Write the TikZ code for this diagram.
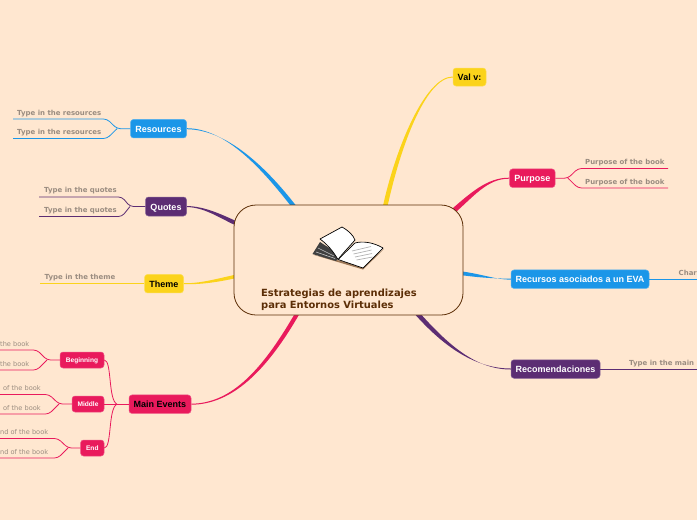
\documentclass[tikz,border=0pt]{standalone}
\usepackage{fontspec}
\setmainfont{Liberation Sans}
\newfontfamily\dvs{DejaVu Sans}
\usetikzlibrary{calc,backgrounds}
\definecolor{paper}{HTML}{FFE7D0}
\definecolor{cblue}{HTML}{1B96E8}
\definecolor{cpurple}{HTML}{5C2D73}
\definecolor{cyellow}{HTML}{FBD31B}
\definecolor{cpink}{HTML}{E91A5C}
\definecolor{cbrown}{HTML}{5C2E06}
\definecolor{cgray}{HTML}{9A8C80}
\newcommand{\taper}[6]{\fill[#1] ($#2+#6$) .. controls ($#3+#6$) and ($#4+(0,.5)$) .. ($#5+(0,.5)$) -- ($#5-(0,.5)$) .. controls ($#4-(0,.5)$) and ($#3-#6$) .. ($#2-#6$) -- cycle;}
\tikzset{
  topic/.style={rounded corners=3pt,draw=#1!75!white,line width=.5pt,fill=#1,text=white,font=\bfseries\fontsize{9}{10}\selectfont,inner sep=0pt,anchor=center,text height=7pt,text depth=0pt},
  subtopic/.style={topic=#1,font=\bfseries\fontsize{6.6}{8}\selectfont,text height=5.2pt},
  leaf/.style={text=cgray,font=\dvs\bfseries\fontsize{6.95}{8}\selectfont,inner sep=0pt,anchor=base west},
  softleaf/.style={text=cgray,font=\dvs\fontsize{6.6}{8}\selectfont,inner sep=0pt,anchor=base west},
  branch/.style={draw=#1,line width=.8pt,line join=round,rounded corners=3.5pt},
  stem/.style={draw=#1,line width=1pt},
}
\begin{document}
\begin{tikzpicture}[x=1pt,y=-1pt]
\useasboundingbox (0,0) rectangle (697,520);
% hub
\node[draw=cbrown,line width=.8pt,fill=paper,rounded corners=22pt,minimum width=229pt,minimum height=110pt,inner sep=0pt] (hub) at (348.5,260) {};
\node[text=cbrown,font=\dvs\bfseries\fontsize{9.9}{12}\selectfont,align=left,anchor=north west,inner sep=0pt] (hubtext) at (261,289) {Estrategias de aprendizajes\\para Entornos Virtuales};
% book
\fill[cbrown!60!paper] (312.5,254.5) -- (363,269.5) -- (384,249) -- (363,266) -- cycle;
\fill[black!75] (320,242) -- (312.5,254) -- (336,261) -- (340,255) -- cycle;
\draw[white!75!black,line width=.5pt] (318,248) -- (334,256);
\draw[white!85!black,line width=.5pt] (316,252) -- (335,258.5);
\fill[white,draw=black,line width=.7pt,line join=round] (338,259.5) -- (355,243) .. controls (362,241) and (373,242) .. (383,248) -- (363,268) -- cycle;
\foreach \a in {0,1,2,3}{\draw[black!30,line width=.7pt] (352+\a*1.5,251+\a*3) -- (371+\a*.5,246.5+\a*3.5);}
\fill[white,draw=black,line width=.7pt,line join=round] (320,239) -- (342,227) .. controls (349,231) and (353,235) .. (355,240) .. controls (349,247) and (343,253) .. (338,259.5) .. controls (333,251) and (327,244) .. (320,239) -- cycle;
% topics
\node[topic=cblue,minimum width=56pt,minimum height=18.5pt] (res) at (158.5,128.7) {Resources};
\node[topic=cpurple,minimum width=41pt,minimum height=19pt] (quo) at (166,206.5) {Quotes};
\node[topic=cyellow,text=black,minimum width=39pt,minimum height=18.5pt] (the) at (164,283.7) {Theme};
\node[topic=cpink,text=black,minimum width=62pt,minimum height=18.5pt] (mai) at (160,404.2) {Main Events};
\node[subtopic=cpink,minimum width=44pt,minimum height=16pt] (beg) at (82,360) {Beginning};
\node[subtopic=cpink,minimum width=32pt,minimum height=16pt] (mid) at (88,404) {Middle};
\node[subtopic=cpink,minimum width=23.5pt,minimum height=16pt] (end) at (92.3,448) {End};
\node[topic=cyellow,text=black,minimum width=33pt,minimum height=18pt] (val) at (469.5,77) {Val v:};
\node[topic=cpink,minimum width=45.5pt,minimum height=18.5pt] (pur) at (532.3,178.2) {Purpose};
\node[topic=cblue,minimum width=138pt,minimum height=18.5pt] (rec) at (580,279.2) {Recursos asociados a un EVA};
\node[topic=cpurple,minimum width=89pt,minimum height=18.5pt] (rcm) at (555.5,369) {Recomendaciones};
% junctions and free ends
\coordinate (jres) at (117,128.7);
\coordinate (jquo) at (130,206.5);
\coordinate (jmai) at (117,404.2);
\coordinate (jbeg) at (47,360);
\coordinate (jmid) at (59,404);
\coordinate (jend) at (68,448);
\coordinate (jpur) at (568,178.2);
\coordinate (fres1) at (13,119);
\coordinate (fres2) at (13,138.5);
\coordinate (fquo1) at (39,197);
\coordinate (fquo2) at (39,216.5);
\coordinate (fthe) at (40,283.7);
\coordinate (fbeg1) at (0,350);
\coordinate (fbeg2) at (0,370);
\coordinate (fmid1) at (0,394.5);
\coordinate (fmid2) at (0,414);
\coordinate (fend1) at (0,438.5);
\coordinate (fend2) at (0,458);
\coordinate (fpur1) at (668,168.5);
\coordinate (fpur2) at (668,188);
\coordinate (frec) at (697,279.2);
\coordinate (frcm) at (697,369);
\begin{scope}[on background layer]
\fill[paper] (0,0) rectangle (697,520);
% tapered connectors from the hub
\taper{cblue}{([shift={(62,4)}]hub.north west)}{(262,165)}{(225,129)}{(res.east)}{(1.7,-1.3)}
\taper{cyellow}{([shift={(36,5)}]hub.north)}{(397,150)}{(425,77)}{(val.west)}{(2.2,.5)}
\taper{cpink}{([shift={(-12,8)}]hub.north east)}{(472,195)}{(487,178)}{(pur.west)}{(1.7,1.8)}
\taper{cblue}{([shift={(-4,13)}]hub.east)}{(482,276)}{(495,279)}{(rec.west)}{(.3,-1.9)}
\taper{cpurple}{([shift={(-48,-4)}]hub.south east)}{(445,345)}{(475,369)}{(rcm.west)}{(1.7,-1.5)}
\taper{cpink}{([shift={(-50,-4)}]hub.south)}{(265,370)}{(232,404)}{(mai.east)}{(1.7,1.2)}
\taper{cyellow}{([shift={(4,16)}]hub.west)}{(215,281)}{(200,284)}{(the.east)}{(.4,1.7)}
\taper{cpurple}{([shift={(4,-36)}]hub.west)}{(220,216)}{(205,207)}{(quo.east)}{(-.8,1.9)}
\end{scope}
% left branches
\draw[branch=cblue] (res.west) -- (jres) -- (107,119) -- (fres1);
\draw[branch=cblue] (jres) -- (107,138.5) -- (fres2);
\draw[branch=cpurple] (quo.west) -- (jquo) -- (122,197) -- (fquo1);
\draw[branch=cpurple] (jquo) -- (122,216.5) -- (fquo2);
\draw[stem=cyellow] (the.west) -- (fthe);
% main events
\draw[branch=cpink] (mai.west) -- (jmai);
\draw[branch=cpink] (jmai) .. controls (108,400) and (112,360) .. (beg.east);
\draw[branch=cpink] (jmai) -- (jmai -| mid.east);
\draw[branch=cpink] (jmai) .. controls (108,408) and (112,448) .. (end.east);
\draw[branch=cpink] (beg.west) -- (jbeg) -- (37,350) -- (fbeg1);
\draw[branch=cpink] (jbeg) -- (37,370) -- (fbeg2);
\draw[branch=cpink] (mid.west) -- (jmid) -- (49,394.5) -- (fmid1);
\draw[branch=cpink] (jmid) -- (49,414) -- (fmid2);
\draw[branch=cpink] (end.west) -- (jend) -- (58,438.5) -- (fend1);
\draw[branch=cpink] (jend) -- (58,458) -- (fend2);
% right side
\draw[branch=cpink] (pur.east) -- (jpur) -- (578,168.5) -- (fpur1);
\draw[branch=cpink] (jpur) -- (578,188) -- (fpur2);
\draw[stem=cblue] (rec.east) -- (frec);
\draw[stem=cpurple] (rcm.east) -- (frcm);
% leaf labels
\node[leaf] (l1) at (17,115) {Type in the resources};
\node[leaf] (l2) at (17,134) {Type in the resources};
\node[leaf] (l3) at (44,192) {Type in the quotes};
\node[leaf] (l4) at (44,212) {Type in the quotes};
\node[leaf] (l5) at (44.5,279) {Type in the theme};
\node[softleaf] (l6) at (0,346) {the book};
\node[softleaf] (l7) at (0,366) {the book};
\node[softleaf] (l8) at (3,390) {of the book};
\node[softleaf] (l9) at (3,410) {of the book};
\node[softleaf] (l10) at (0,434) {nd of the book};
\node[softleaf] (l11) at (0,454) {nd of the book};
\node[leaf] (l12) at (585,164) {Purpose of the book};
\node[leaf] (l13) at (585,184) {Purpose of the book};
\node[leaf] (l14) at (678.5,275) {Char};
\node[leaf] (l15) at (629,365) {Type in the main};
\end{tikzpicture}
\end{document}
